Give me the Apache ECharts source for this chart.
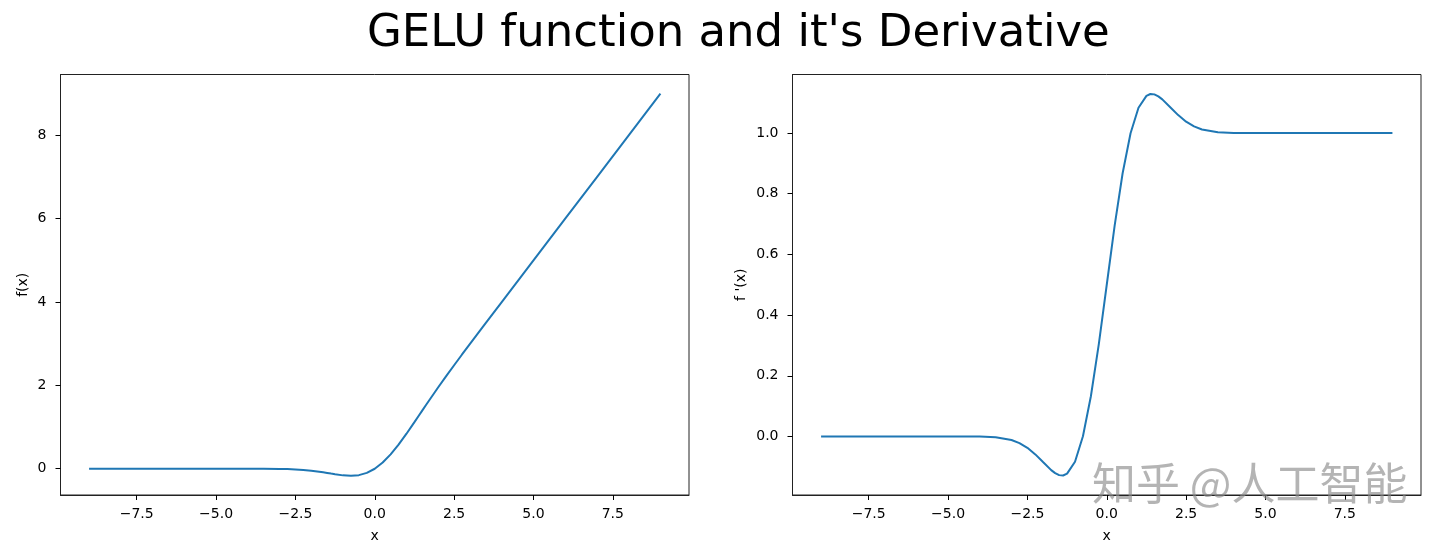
<!DOCTYPE html>
<html>
<head>
<meta charset="utf-8">
<script src="https://cdn.jsdelivr.net/npm/echarts@6/dist/echarts.min.js"></script>
<style>
  html, body { margin: 0; padding: 0; background: #fff; }
  #chart { width: 1440px; height: 547px; }
</style>
</head>
<body>
<div id="chart"></div>
<script>
// sample points
const xs = [-9, -8, -7, -6, -5, -4, -3.5, -3, -2.75, -2.5, -2.25, -2, -1.75, -1.625, -1.5, -1.375, -1.25, -1,
  -0.75, -0.5, -0.25, 0, 0.25, 0.5, 0.75, 1, 1.25, 1.375, 1.5, 1.625, 1.75, 2, 2.25, 2.5, 2.75, 3, 3.5, 4,
  5, 6, 7, 8, 9];
const gelu = [0, 0, 0, 0, 0, -0.0001, -0.0008, -0.004, -0.0082, -0.0155, -0.0275, -0.0455, -0.070, -0.0847,
  -0.100, -0.1163, -0.132, -0.159, -0.170, -0.154, -0.100, 0, 0.150, 0.346, 0.580, 0.841, 1.118, 1.2587,
  1.400, 1.5403, 1.680, 1.955, 2.222, 2.484, 2.742, 2.996, 3.499, 4.0, 5, 6, 7, 8, 9];
const geluGrad = [0, 0, 0, 0, 0, -0.0005, -0.0028, -0.0119, -0.022, -0.0376, -0.0592, -0.0852, -0.111,
  -0.1208, -0.1275, -0.1287, -0.1227, -0.0833, 0.0008, 0.1325, 0.3046, 0.5, 0.6954, 0.8675, 0.9992, 1.0833,
  1.1227, 1.1287, 1.1275, 1.1208, 1.111, 1.0852, 1.0592, 1.0376, 1.022, 1.0119, 1.0028, 1.0005, 1, 1, 1, 1, 1];

const xTicks = [-7.5, -5, -2.5, 0, 2.5, 5, 7.5];
const leftYTicks = [0, 2, 4, 6, 8];
const rightYTicks = [0, 0.2, 0.4, 0.6, 0.8, 1.0];

const FONT = 'DejaVu Sans';
const fmt = (v, d) => (v < 0 ? '\u2212' : '') + Math.abs(v).toFixed(d);

const xAxisBase = (idx) => ({
  type: 'value',
  gridIndex: idx,
  min: -9.9,
  max: 9.9,
  name: 'x',
  nameLocation: 'middle',
  nameGap: 34,
  nameTextStyle: {color: '#000', fontSize: 14, fontFamily: FONT},
  axisLine: {show: true, onZero: false, lineStyle: {color: '#222', width: 1}},
  splitLine: {show: false},
  axisTick: {show: true, length: 5, customValues: xTicks, lineStyle: {color: '#000'}},
  axisLabel: {
    customValues: xTicks, margin: 12, color: '#000', fontSize: 14, fontFamily: FONT,
    formatter: (v) => fmt(v, 1),
  },
});

const yAxisBase = (idx, min, max, ticks, dec, name, gap) => ({
  type: 'value',
  gridIndex: idx,
  min: min,
  max: max,
  name: name,
  nameLocation: 'middle',
  nameGap: gap,
  nameRotate: 90,
  nameTextStyle: {color: '#000', fontSize: 14, fontFamily: FONT},
  axisLine: {show: true, onZero: false, lineStyle: {color: '#222', width: 1}},
  splitLine: {show: false},
  axisTick: {show: true, length: 5, customValues: ticks, lineStyle: {color: '#000'}},
  axisLabel: {
    customValues: ticks, margin: 14, color: '#000', fontSize: 14, fontFamily: FONT,
    formatter: (v) => fmt(v, dec),
  },
});

const myChart = echarts.init(document.getElementById('chart'), null, {renderer: 'canvas'});
const option = {
  backgroundColor: '#fff',
  animation: false,
  title: {
    text: "GELU function and it's Derivative",
    left: 362,
    top: 7,
    textStyle: {color: '#000', fontSize: 45, fontWeight: 'normal', fontFamily: FONT},
  },
  grid: [
    {left: 60.5, top: 74.5, width: 628.5, height: 420.5, outerBoundsMode: 'none', show: true, borderColor: '#222', borderWidth: 1, backgroundColor: 'transparent'},
    {left: 792.5, top: 74.5, width: 628.5, height: 420.5, outerBoundsMode: 'none', show: true, borderColor: '#222', borderWidth: 1, backgroundColor: 'transparent'},
  ],
  xAxis: [xAxisBase(0), xAxisBase(1)],
  yAxis: [
    yAxisBase(0, -0.63, 9.46, leftYTicks, 0, 'f(x)', 30),
    yAxisBase(1, -0.193, 1.193, rightYTicks, 1, "f '(x)", 44),
  ],
  series: [
    {
      type: 'line', xAxisIndex: 0, yAxisIndex: 0, showSymbol: false, symbol: 'none',
      data: xs.map((x, i) => [x, gelu[i]]),
      lineStyle: {color: '#1f77b4', width: 2},
    },
    {
      type: 'line', xAxisIndex: 1, yAxisIndex: 1, showSymbol: false, symbol: 'none',
      data: xs.map((x, i) => [x, geluGrad[i]]),
      lineStyle: {color: '#1f77b4', width: 2},
    },
  ],
  graphic: [
    {
      type: 'text', left: 1092, top: 461, z: 100,
      style: {
        text: '知乎 @人工智能', fill: 'rgba(140,140,140,0.65)',
        font: '44px "Noto Sans CJK SC"',
      },
    },
  ],
};
myChart.setOption(option);
</script>
</body>
</html>
